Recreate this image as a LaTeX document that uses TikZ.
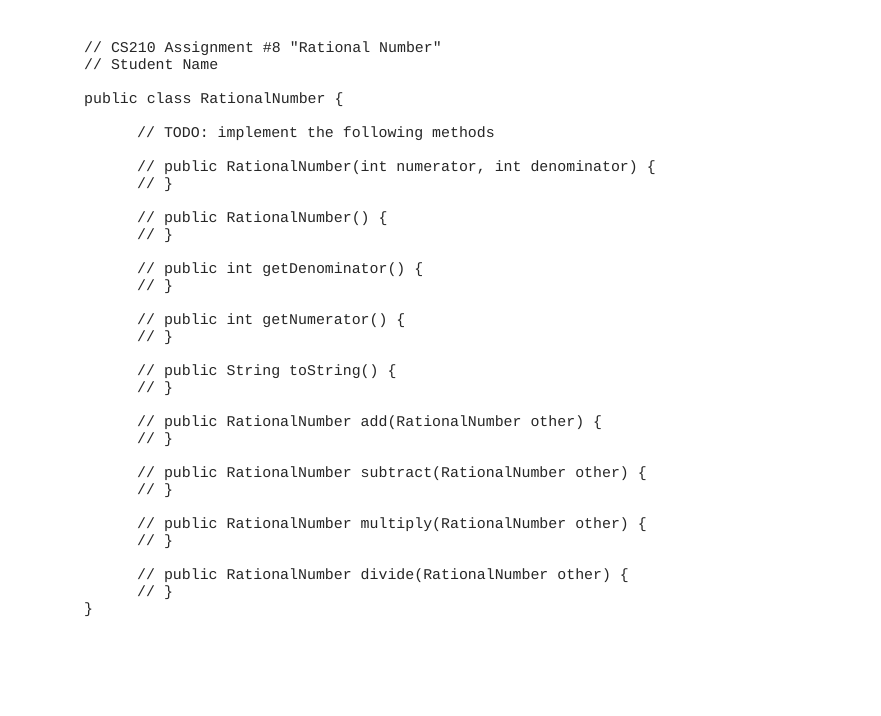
\documentclass[tikz,border=0pt]{standalone}
\usepackage{fontspec}
\newfontfamily\code{Liberation Mono}
\begin{document}
\begin{tikzpicture}[x=1pt,y=-1pt,
  ln/.style={anchor=base west,inner sep=0pt,font=\code\fontsize{14.9}{17}\selectfont,text=black!85}]
\useasboundingbox[fill=white] (0,0) rectangle (881,715);
\def\L#1#2#3#4{\node[ln] (#1) at (#2,#3+5) {#4};}
\L{a}{84}{47}{// CS210 Assignment \#8 "Rational Number"}
\L{b}{84}{64}{// Student Name}
\L{c}{84}{98}{public class RationalNumber \{}
\L{d}{137}{132}{// TODO: implement the following methods}
\L{e1}{137}{166}{// public RationalNumber(int numerator, int denominator) \{}
\L{e2}{137}{183}{// \}}
\L{f1}{137}{217}{// public RationalNumber() \{}
\L{f2}{137}{234}{// \}}
\L{g1}{137}{268}{// public int getDenominator() \{}
\L{g2}{137}{285}{// \}}
\L{h1}{137}{319}{// public int getNumerator() \{}
\L{h2}{137}{336}{// \}}
\L{i1}{137}{370}{// public String toString() \{}
\L{i2}{137}{387}{// \}}
\L{j1}{137}{421}{// public RationalNumber add(RationalNumber other) \{}
\L{j2}{137}{438}{// \}}
\L{k1}{137}{472}{// public RationalNumber subtract(RationalNumber other) \{}
\L{k2}{137}{489}{// \}}
\L{l1}{137}{523}{// public RationalNumber multiply(RationalNumber other) \{}
\L{l2}{137}{540}{// \}}
\L{m1}{137}{574}{// public RationalNumber divide(RationalNumber other) \{}
\L{m2}{137}{591}{// \}}
\L{n}{84}{608}{\}}
\end{tikzpicture}
\end{document}
